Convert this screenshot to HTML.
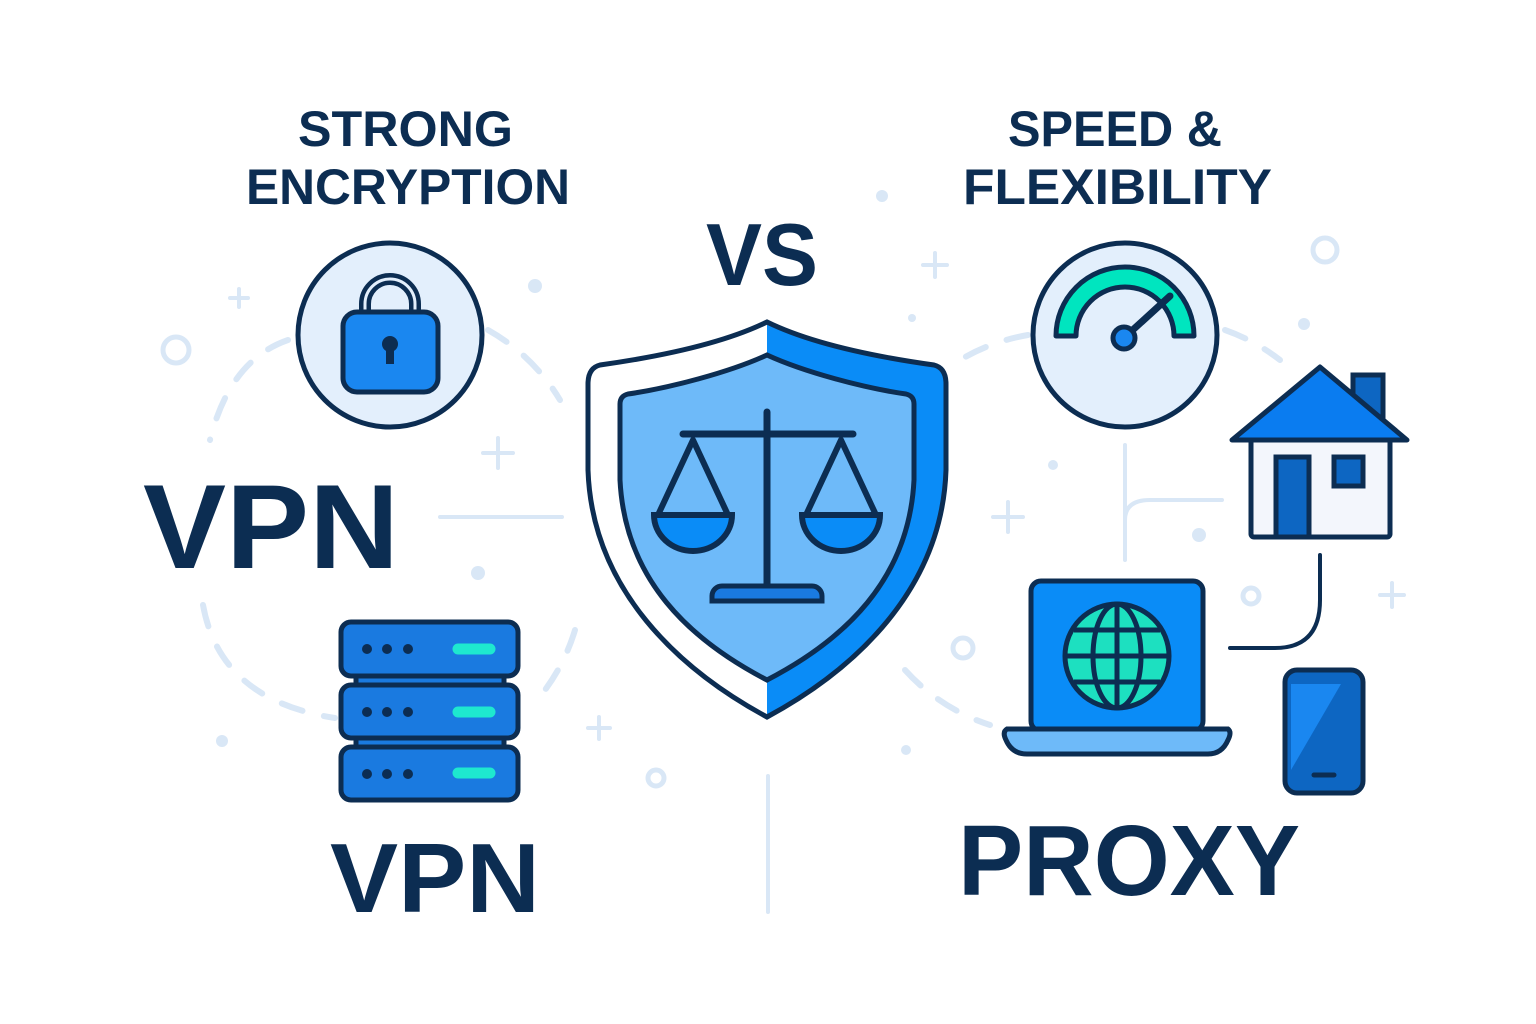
<!DOCTYPE html>
<html><head><meta charset="utf-8"><style>
html,body{margin:0;padding:0;background:#fff;}
svg{display:block}
text{font-family:"Liberation Sans",sans-serif;font-weight:bold;fill:#0c2d52}
</style></head><body>
<svg width="1536" height="1024" viewBox="0 0 1536 1024" xmlns="http://www.w3.org/2000/svg">
<g fill="none" stroke="#d9e7f6" stroke-width="6" stroke-linecap="round">
<path d="M288,340 Q230,360 210,440" stroke-dasharray="22 22"/>
<path d="M203,605 Q220,700 335,718" stroke-dasharray="22 22"/>
<path d="M488,330 A195,195 0 0 1 560,400" stroke-dasharray="22 22"/>
<path d="M575,630 A195,195 0 0 1 545,690" stroke-dasharray="22 22"/>
<path d="M1028,335 A195,195 0 0 0 960,360" stroke-dasharray="22 22"/>
<path d="M1225,330 A195,195 0 0 1 1280,360" stroke-dasharray="22 22"/>
<path d="M905,670 A195,195 0 0 0 990,725" stroke-dasharray="22 22"/>
<line x1="440" y1="517" x2="562" y2="517" stroke-width="4"/>
<line x1="768" y1="776" x2="768" y2="912" stroke-width="4"/>
<path d="M1125,445 V560 M1125,520 Q1125,500 1150,500 H1222" stroke-width="4"/>
<path d="M230,298 h18 M239,289 v18 M483,453 h30 M498,438 v30 M923,265 h24 M935,253 v24 M993,517 h30 M1008,502 v30 M1380,595 h24 M1392,583 v24 M588,728 h22 M599,717 v22" stroke-width="4"/>
<circle cx="176" cy="350" r="13" stroke-width="5"/>
<circle cx="1325" cy="250" r="12" stroke-width="5"/>
<circle cx="963" cy="648" r="10" stroke-width="5"/>
<circle cx="1251" cy="596" r="8" stroke-width="5"/>
<circle cx="656" cy="778" r="8" stroke-width="5"/>
</g>
<g fill="#d9e7f6">
<circle cx="535" cy="286" r="7"/><circle cx="478" cy="573" r="7"/><circle cx="222" cy="741" r="6"/>
<circle cx="882" cy="196" r="6"/><circle cx="1304" cy="324" r="6"/><circle cx="1053" cy="465" r="5"/>
<circle cx="1199" cy="535" r="7"/><circle cx="906" cy="750" r="5"/><circle cx="912" cy="318" r="4"/>
</g>

<text x="298" y="146" font-size="50" textLength="215" lengthAdjust="spacingAndGlyphs">STRONG</text>
<text x="246" y="204" font-size="50" textLength="324" lengthAdjust="spacingAndGlyphs">ENCRYPTION</text>
<text x="1008" y="146" font-size="50" textLength="214" lengthAdjust="spacingAndGlyphs">SPEED &amp;</text>
<text x="963" y="204" font-size="50" textLength="309" lengthAdjust="spacingAndGlyphs">FLEXIBILITY</text>
<text x="706" y="285" font-size="88" textLength="112" lengthAdjust="spacingAndGlyphs">VS</text>
<text x="143" y="568" font-size="120" textLength="256" lengthAdjust="spacingAndGlyphs">VPN</text>
<text x="330" y="912" font-size="98" textLength="210" lengthAdjust="spacingAndGlyphs">VPN</text>
<text x="958" y="895" font-size="100" textLength="342" lengthAdjust="spacingAndGlyphs">PROXY</text>

<!-- lock -->
<circle cx="390" cy="335" r="92" fill="#e3effc" stroke="#0c2d52" stroke-width="5"/>
<path d="M365,322 v-18 a25,25 0 0 1 50,0 v18" fill="none" stroke="#0c2d52" stroke-width="12"/>
<path d="M365,322 v-18 a25,25 0 0 1 50,0 v18" fill="none" stroke="#e3effc" stroke-width="3"/>
<rect x="343" y="312" width="95" height="80" rx="14" fill="#1a87f0" stroke="#0c2d52" stroke-width="5"/>
<circle cx="390" cy="344" r="8" fill="#0c2d52"/><rect x="386" y="346" width="8" height="18" fill="#0c2d52"/>

<!-- server -->
<g stroke="#0c2d52" stroke-width="5">
<rect x="356" y="672" width="148" height="16" fill="#1a7ae0"/>
<rect x="356" y="734" width="148" height="16" fill="#1a7ae0"/>
<rect x="341" y="622" width="177" height="54" rx="10" fill="#1a7ae0"/>
<rect x="341" y="685" width="177" height="53" rx="10" fill="#1a7ae0"/>
<rect x="341" y="747" width="177" height="53" rx="10" fill="#1a7ae0"/>
</g>
<g fill="#0c2d52"><circle cx="367" cy="649" r="5"/><circle cx="387" cy="649" r="5"/><circle cx="408" cy="649" r="5"/>
<circle cx="367" cy="712" r="5"/><circle cx="387" cy="712" r="5"/><circle cx="408" cy="712" r="5"/>
<circle cx="367" cy="774" r="5"/><circle cx="387" cy="774" r="5"/><circle cx="408" cy="774" r="5"/></g>
<g stroke="#1ee8cf" stroke-width="11" stroke-linecap="round"><line x1="458" y1="649" x2="490" y2="649"/><line x1="458" y1="712" x2="490" y2="712"/><line x1="458" y1="773" x2="490" y2="773"/></g>

<!-- shield -->
<path d="M767,322 C720,345 650,358 600,365 Q588,368 588,384 L588,470 C592,590 680,670 767,717 Z" fill="#fff"/>
<path d="M767,322 C814,345 884,358 934,365 Q946,368 946,384 L946,470 C942,590 854,670 767,717 Z" fill="#0a8cf7"/>
<path d="M767,322 C720,345 650,358 600,365 Q588,368 588,384 L588,470 C592,590 680,670 767,717 C854,670 942,590 946,470 L946,384 Q946,368 934,365 C884,358 814,345 767,322 Z" fill="none" stroke="#0c2d52" stroke-width="5"/>
<path d="M767,355 C730,372 670,388 628,394 Q620,396 620,404 L620,480 C625,580 690,640 767,680 C844,640 909,580 914,480 L914,404 Q914,396 906,394 C864,388 804,372 767,355 Z" fill="#6ebaf9" stroke="#0c2d52" stroke-width="5"/>
<g stroke="#0c2d52" stroke-width="7" stroke-linecap="round" fill="none">
<line x1="767" y1="412" x2="767" y2="590"/>
<line x1="683" y1="434" x2="853" y2="434"/>
<path d="M693,440 L658,515 M693,440 L728,515 M841,440 L806,515 M841,440 L876,515" stroke-width="6"/>
</g>
<path d="M654,515 h78 a39,36 0 0 1 -78,0 z" fill="#0a8cf7" stroke="#0c2d52" stroke-width="6"/>
<path d="M802,515 h78 a39,36 0 0 1 -78,0 z" fill="#0a8cf7" stroke="#0c2d52" stroke-width="6"/>
<path d="M722,586 h90 a10,10 0 0 1 10,10 v5 h-110 v-5 a10,10 0 0 1 10,-10 z" fill="#1a7ae0" stroke="#0c2d52" stroke-width="5"/>

<!-- speedometer -->
<circle cx="1125" cy="335" r="92" fill="#e3effc" stroke="#0c2d52" stroke-width="5"/>
<path d="M1056,336 A69,69 0 0 1 1194,336 L1174,336 A49,49 0 0 0 1076,336 Z" fill="#00e5bf" stroke="#0c2d52" stroke-width="5" stroke-linejoin="round"/>
<line x1="1125" y1="337" x2="1170" y2="296" stroke="#0c2d52" stroke-width="7" stroke-linecap="round"/>
<circle cx="1124" cy="338" r="11" fill="#1a87f0" stroke="#0c2d52" stroke-width="5"/>

<!-- house -->
<rect x="1353" y="375" width="30" height="50" fill="#0d66c2" stroke="#0c2d52" stroke-width="5"/>
<rect x="1251" y="430" width="139" height="107" rx="3" fill="#f3f6fc" stroke="#0c2d52" stroke-width="5"/>
<rect x="1276" y="457" width="33" height="80" fill="#0d66c2" stroke="#0c2d52" stroke-width="5"/>
<rect x="1334" y="457" width="29" height="29" fill="#0d66c2" stroke="#0c2d52" stroke-width="5"/>
<path d="M1320,367 L1232,440 L1407,440 Z" fill="#0a7cf0" stroke="#0c2d52" stroke-width="5" stroke-linejoin="round"/>
<path d="M1320,555 V600 Q1320,648 1275,648 H1230" fill="none" stroke="#0c2d52" stroke-width="4" stroke-linecap="round"/>

<!-- laptop -->
<rect x="1031" y="581" width="172" height="150" rx="10" fill="#0a8cf7" stroke="#0c2d52" stroke-width="5"/>
<path d="M1007,729 H1228 Q1232,732 1228,740 Q1222,754 1208,754 H1027 Q1012,754 1006,740 Q1002,732 1007,729 Z" fill="#6ebaf9" stroke="#0c2d52" stroke-width="5"/>
<g stroke="#0c2d52" stroke-width="5" fill="none">
<circle cx="1117" cy="656" r="52" fill="#1de0c0"/>
<ellipse cx="1117" cy="656" rx="24" ry="52"/>
<line x1="1117" y1="604" x2="1117" y2="708"/>
<line x1="1065" y1="656" x2="1169" y2="656"/>
<line x1="1074" y1="630" x2="1160" y2="630"/>
<line x1="1074" y1="682" x2="1160" y2="682"/>
</g>

<!-- phone -->
<rect x="1285" y="670" width="78" height="123" rx="12" fill="#0d66c2" stroke="#0c2d52" stroke-width="5"/>
<path d="M1291,684 H1341 L1291,770 Z" fill="#1a87f0"/>
<line x1="1314" y1="775" x2="1334" y2="775" stroke="#0c2d52" stroke-width="5" stroke-linecap="round"/>
</svg>
</body></html>
